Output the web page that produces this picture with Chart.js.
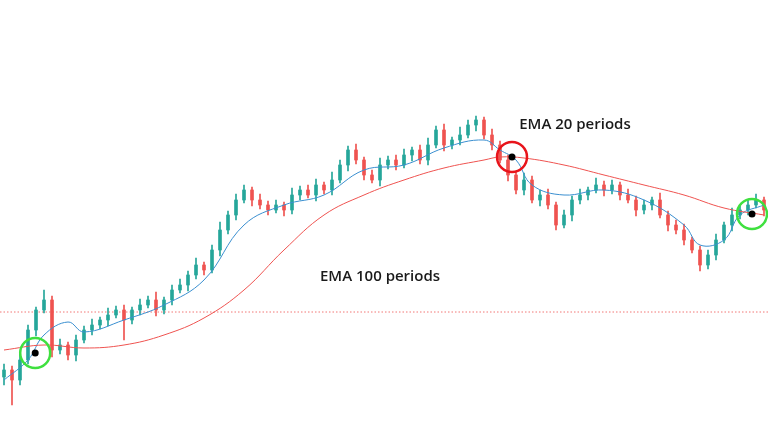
<!DOCTYPE html>
<html><head><meta charset="utf-8">
<script src="https://cdn.jsdelivr.net/npm/chart.js@4"></script>
<style>html,body{margin:0;background:#fff}#c{width:768px;height:432px}</style>
</head><body><div id="c"><canvas id="grafico"></canvas></div>
<script>
// closing prices, one per candle
var fechamento = [62,52,72,102,122,132,82,87,77,92,102,107,112,117,122,112,122,127,132,122,132,142,147,157,167,162,182,202,217,232,242,232,227,222,227,222,237,242,237,247,242,252,267,282,272,257,252,267,272,267,277,282,272,287,302,287,292,297,307,312,297,287,272,257,242,252,232,237,227,207,217,232,237,242,247,242,247,237,232,222,227,232,217,207,202,192,182,167,177,192,207,217,222,227,232,222];
var sombraCima = [6,4,8,5,3,10,4,6,3,5,4,6,3,7,4,5,3,6,4,8,3,5,6,4,7,3,5,8,4,6,5,3,6,4,5,3,7,4,5,6,3,8,5,4,6,3,5,7,4,5,6,3,5,7,4,6,3,8,5,4,3,6,4,5,3,7,4,5,6,3,5,4,6,3,7,4,5,3,6,4,5,3,7,4,5,6,3,4,5,6,3,7,4,5,6,3];
var sombraBaixo = [8,25,5,4,6,3,7,4,5,6,3,5,4,6,3,20,4,5,3,6,4,5,3,6,4,5,3,6,4,5,3,6,4,5,3,6,4,5,3,6,4,5,3,6,4,5,3,6,4,5,3,6,4,5,3,6,4,5,3,6,4,5,3,6,4,5,3,6,4,5,3,6,4,5,3,6,4,5,3,6,4,5,3,6,4,5,3,6,4,5,3,6,4,5,3,6];
var ema100 = {0:82,5:87,10:84,15:87,20:97,25:114,30:142,35:182,40:217,45:237,50:252,55:264,60:272,62:275,65:274,70:267,75:257,80:247,85:237,90:224,95:217};
var ema20 = {0:52,3:72,5:97,8:110,10:100,15:112,20:127,25:152,30:207,35:227,40:237,45:262,50:267,55:284,60:292,62:282,64:272,66:247,70:237,75:242,80:232,85:207,87:187,90:192,92:217,95:227};
var linhaPontilhada = 120;

var labels = [], corpos = [], pavios = [], cores = [], linhaRapida = [], linhaLenta = [];
var abertura = 55;
for (var i = 0; i < fechamento.length; i++) {
    var f = fechamento[i];
    var alto = Math.max(abertura, f) + sombraCima[i];
    var baixo = Math.min(abertura, f) - sombraBaixo[i];
    labels.push(i);
    corpos.push([abertura, f === abertura ? f + 1 : f]);
    pavios.push([baixo, alto]);
    cores.push(f >= abertura ? '#26a69a' : '#ef5350');
    linhaRapida.push(ema20[i] !== undefined ? ema20[i] : null);
    linhaLenta.push(ema100[i] !== undefined ? ema100[i] : null);
    abertura = f;
}

var anotacoes = {
    id: 'anotacoes',
    beforeDatasetsDraw: function (chart) {
        var ctx = chart.ctx, y = chart.scales.y, a = chart.chartArea;
        ctx.save();
        ctx.strokeStyle = '#ef5350';
        ctx.lineWidth = 0.8;
        ctx.setLineDash([1.5, 2]);
        ctx.beginPath();
        ctx.moveTo(a.left, y.getPixelForValue(linhaPontilhada));
        ctx.lineTo(a.right, y.getPixelForValue(linhaPontilhada));
        ctx.stroke();
        ctx.restore();
    },
    afterDatasetsDraw: function (chart) {
        var ctx = chart.ctx, x = chart.scales.x, y = chart.scales.y;
        var circulos = [[3.9, 79, '#3fe03f'], [63.5, 275, '#e8141b'], [93.5, 218, '#3fe03f']];
        ctx.save();
        circulos.forEach(function (c) {
            var px = x.getPixelForValue(c[0]), py = y.getPixelForValue(c[1]);
            ctx.strokeStyle = c[2];
            ctx.lineWidth = 2.5;
            ctx.beginPath();
            ctx.arc(px, py, 15, 0, Math.PI * 2);
            ctx.stroke();
            ctx.fillStyle = '#000';
            ctx.beginPath();
            ctx.arc(px, py, 3.5, 0, Math.PI * 2);
            ctx.fill();
        });
        ctx.fillStyle = '#1a1a1a';
        ctx.font = '600 15px "Open Sans"';
        ctx.textBaseline = 'middle';
        ctx.fillText('EMA 20 periods', x.getPixelForValue(64.4), y.getPixelForValue(307));
        ctx.fillText('EMA 100 periods', x.getPixelForValue(39.5), y.getPixelForValue(155));
        ctx.restore();
    }
};

new Chart(document.getElementById('grafico'), {
    data: {
        labels: labels,
        datasets: [
            { type: 'line', data: linhaLenta, borderColor: '#ef5350', borderWidth: 1, pointRadius: 0, spanGaps: true, tension: 0.4 },
            { type: 'line', data: linhaRapida, borderColor: '#3a8fd0', borderWidth: 1, pointRadius: 0, spanGaps: true, tension: 0.4 },
            { type: 'bar', data: pavios, backgroundColor: cores, barThickness: 1, grouped: false },
            { type: 'bar', data: corpos, backgroundColor: cores, barThickness: 3, grouped: false }
        ]
    },
    options: {
        responsive: true,
        maintainAspectRatio: false,
        animation: false,
        layout: { padding: 0 },
        plugins: { legend: { display: false }, tooltip: { enabled: false } },
        scales: {
            x: { display: false, offset: true },
            y: { display: false, min: 0, max: 432 }
        }
    },
    plugins: [anotacoes]
});
</script>
</body></html>
